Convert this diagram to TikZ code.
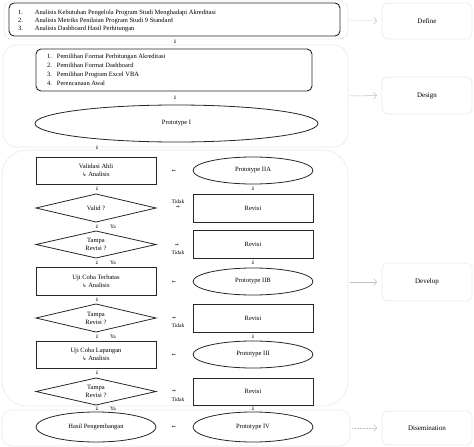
\documentclass[tikz,border=0pt]{standalone}
\usepackage{fontspec}
\setmainfont{Liberation Serif}
\newfontfamily\symfont{DejaVu Sans}
\usetikzlibrary{shapes.geometric,arrows.meta}
\begin{document}
\begin{tikzpicture}[x=1pt,y=-1pt,
  every node/.style={font=\fontsize{6.5}{8}\selectfont, inner sep=0pt, outer sep=0pt},
  grp/.style={draw=black!9, line width=0.6pt, rounded corners=#1},
  stg/.style={draw=black!9, line width=0.6pt, rounded corners=6pt, minimum width=90pt, font=\fontsize{7}{8}\selectfont},
  lbox/.style={draw=black!85, line width=0.9pt, rounded corners=5pt},
  rbox/.style={draw=black!85, line width=0.8pt, minimum width=120pt, align=center},
  ebox/.style={draw=black!85, line width=0.8pt, ellipse, minimum width=120pt, align=center},
  dbox/.style={draw=black!85, line width=0.8pt, diamond, aspect=4, minimum width=120pt, align=center},
  sym/.style={font=\symfont\fontsize{4.8}{5}\selectfont},
  conn/.style={draw=black!25, line width=0.5pt, -{Straight Barb[length=3pt,width=7pt]}, shorten >=5pt, shorten <=2pt},
  lbl/.style={font=\fontsize{5.5}{6}\selectfont}
]
\useasboundingbox (0,0) rectangle (474,447);

% stage groups
\node[grp=8pt, minimum width=344pt, minimum height=38pt] (g1) at (176,20) {};
\node[grp=14pt, minimum width=345pt, minimum height=102pt] (g2) at (175.5,96) {};
\node[grp=25pt, minimum width=346pt, minimum height=256pt] (g3) at (175,278) {};
\node[grp=10pt, minimum width=348pt, minimum height=36pt] (g4) at (176,428) {};

% stage labels
\node[stg, minimum height=36pt] (def) at (427,21) {Define};
\node[stg, minimum height=37pt] (des) at (427,95.5) {Design};
\node[stg, minimum height=38pt] (dev) at (427,282) {Develop};
\node[stg, minimum height=34pt] (dis) at (427,428) {Disemination};

\draw[conn, densely dotted] (g1.east) -- (def.west);
\draw[conn] (g2.east) -- (des.west);
\draw[conn] (dev.west -| g3.east) -- (dev.west);
\draw[conn, densely dotted] (g4.east) -- (dis.west);

% define
\node[lbox, minimum width=331pt, minimum height=33pt] (l1) at (174.5,19.5) {};
\node[anchor=west, align=left] (l1t) at (18,21) {\makebox[17pt][l]{1.}Analisis Kebutuhan Pengelola Program Studi Menghadapi Akreditasi\\
\makebox[17pt][l]{2.}Analisis Metriks Penilaian Program Studi 9 Standard\\
\makebox[17pt][l]{3.}Analisis Dashboard Hasil Perhitungan};
\node[sym] (s0) at (175,42) {⇓};

% design
\node[lbox, minimum width=276pt, minimum height=42pt] (l2) at (174,70) {};
\node[anchor=west, align=left, font=\fontsize{6.5}{9}\selectfont] (l2t) at (47,69.5) {\makebox[10pt][l]{1.}Pemilihan Format Perhitungan Akreditasi\\
\makebox[10pt][l]{2.}Pemilihan Format Dashboard\\
\makebox[10pt][l]{3.}Pemilihan Program Excel VBA\\
\makebox[10pt][l]{4.}Perencanaan Awal};
\node[sym] (s1) at (175,98) {⇓};
\node[ebox, minimum width=283pt, minimum height=37pt] (p1) at (176.5,123.5) {Prototype I};
\node[sym] (s2) at (97,147.5) {⇓};

% develop left column
\node[rbox, minimum height=27pt] (va) at (96,170.5) {Validasi Ahli\\{\symfont\fontsize{5}{5}\selectfont ↳} Analisis};
\node[dbox, minimum height=28pt] (d1) at (96,208) {Valid ?};
\node[dbox, minimum height=27pt] (d2) at (96,244.5) {Tampa\\Revisi ?};
\node[rbox, minimum height=28pt] (uct) at (96,281) {Uji Coba Terbatas\\{\symfont\fontsize{5}{5}\selectfont ↳} Analisis};
\node[dbox, minimum height=28pt] (d3) at (96,318) {Tampa\\Revisi ?};
\node[rbox, minimum height=27pt] (ucl) at (96,354.5) {Uji Coba Lapangan\\{\symfont\fontsize{5}{5}\selectfont ↳} Analisis};
\node[dbox, minimum height=27pt] (d4) at (96,391.5) {Tampa\\Revisi ?};
\node[ebox, minimum height=30pt] (hp) at (96,427) {Hasil Pengembangan};

% develop right column
\node[ebox, minimum height=27pt] (p2a) at (253,170.5) {Prototype IIA};
\node[rbox, minimum height=28pt] (rv1) at (253,208) {Revisi};
\node[rbox, minimum height=28pt] (rv2) at (253,244) {Revisi};
\node[ebox, minimum height=27pt] (p2b) at (253,281.5) {Prototype IIB};
\node[rbox, minimum height=28pt] (rv3) at (253,318) {Revisi};
\node[ebox, minimum height=27pt] (p3) at (253,354.5) {Prototype III};
\node[rbox, minimum height=27pt] (rv4) at (253,391.5) {Revisi};
\node[ebox, minimum height=30pt] (p4) at (253,427) {Prototype IV};

% vertical arrows left
\node[sym] (v1) at (97,188.5) {⇓};
\node[sym] (v2) at (97,227) {⇓};
\node[lbl] (y1) at (113,227) {Ya};
\node[sym] (v3) at (97,263) {⇓};
\node[lbl] (y2) at (113,263) {Ya};
\node[sym] (v4) at (97,300) {⇓};
\node[sym] (v5) at (97,336.5) {⇓};
\node[lbl] (y3) at (113,336.5) {Ya};
\node[sym] (v6) at (97,373) {⇓};
\node[sym] (v7) at (97,409) {⇓};
\node[lbl] (y4) at (113,409) {Ya};

% vertical arrows right
\node[sym] (w1) at (253,188.5) {⇓};
\node[sym] (w2) at (253,263) {⇓};
\node[sym] (w3) at (253,336.5) {⇓};
\node[sym] (w4) at (253,409) {⇓};

% horizontal arrows middle
\node[sym] (h1) at (174,171) {⇐};
\node[lbl] (t1) at (178,201.5) {Tidak};
\node[sym] (h2) at (178,207.5) {⇒};
\node[sym] (h3) at (177,245.5) {⇒};
\node[lbl] (t2) at (178,253) {Tidak};
\node[sym] (h4) at (174,282) {⇐};
\node[sym] (h5) at (174,318.5) {⇒};
\node[lbl] (t3) at (178,326) {Tidak};
\node[sym] (h6) at (174,355) {⇐};
\node[sym] (h7) at (174,391.5) {⇒};
\node[lbl] (t4) at (178,399.5) {Tidak};
\node[sym] (h8) at (174,427.5) {⇐};
\end{tikzpicture}
\end{document}
